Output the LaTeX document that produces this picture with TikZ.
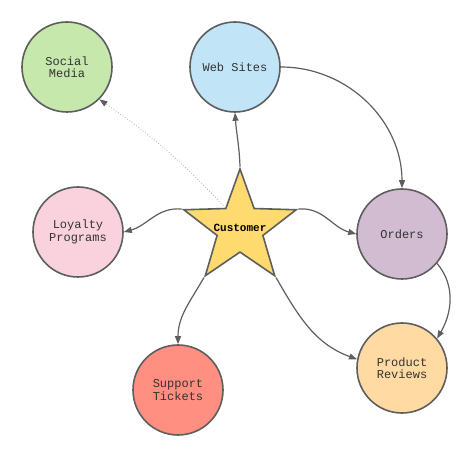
\documentclass[tikz,border=0pt]{standalone}
\usepackage{fontspec}
\setmonofont{Liberation Mono}
\usepackage{xcolor}
\usetikzlibrary{shapes.geometric,arrows.meta}
\definecolor{linec}{HTML}{5E5E5E}
\definecolor{txtc}{HTML}{333333}
\definecolor{socialc}{HTML}{C7E8AC}
\definecolor{webc}{HTML}{C1E4F7}
\definecolor{loyalc}{HTML}{F9D2DE}
\definecolor{orderc}{HTML}{D1BCD2}
\definecolor{ticketc}{HTML}{FF8F80}
\definecolor{reviewc}{HTML}{FFDBA3}
\definecolor{starc}{HTML}{FFDA6E}

\begin{document}
\begin{tikzpicture}[x=1pt,y=1pt,
    bubble/.style={circle,draw=linec,line width=1.6pt,minimum size=90pt,inner sep=0pt,
      align=center,text=txtc,font=\ttfamily\fontsize{12}{12.5}\selectfont},
    link/.style={draw=linec,line width=1.2pt,-{Triangle[length=8pt,width=6pt]}},
    hint/.style={draw=gray!60,line width=0.8pt,dotted,-{Triangle[length=8pt,width=6pt,color=linec]}}]
    \useasboundingbox (0,0) rectangle (474,458);
    \node[bubble,fill=socialc] (social) at (67,391) {Social\\Media};
    \node[bubble,fill=webc] (web) at (235,391) {Web Sites};
    \node[bubble,fill=loyalc] (loyalty) at (78,226) {Loyalty\\Programs};
    \node[bubble,fill=orderc] (orders) at (402,224) {Orders};
    \node[bubble,fill=ticketc] (support) at (178,68) {Support\\Tickets};
    \node[bubble,fill=reviewc] (reviews) at (402,90) {Product\\Reviews};
    \node[star,star points=5,star point ratio=2.45,minimum size=118pt,inner sep=0pt,
      draw=linec,line width=1.6pt,fill=starc,
      label={[text=black,font=\ttfamily\bfseries\fontsize{11}{12}\selectfont]center:Customer}]
      (customer) at (240,230) {};
    \draw[link] (customer.outer point 1) to[out=92,in=-86] (web.south);
    \draw[hint] (customer.inner point 1) to[out=135,in=-45,bend right=6] (social.-45);
    \draw[link] (customer.outer point 2) to[out=175,in=15] (loyalty.east);
    \draw[link] (customer.outer point 5) to[out=5,in=165] (orders.west);
    \draw[link] (customer.outer point 3) to[out=240,in=90] (support.north);
    \draw[link] (customer.outer point 4) to[out=-60,in=160] (reviews.169);
    \draw[link] (web.east) to[out=0,in=90] (orders.north);
    \draw[link] (orders.-40) to[out=-50,in=60] (reviews.40);
\end{tikzpicture}
\end{document}
